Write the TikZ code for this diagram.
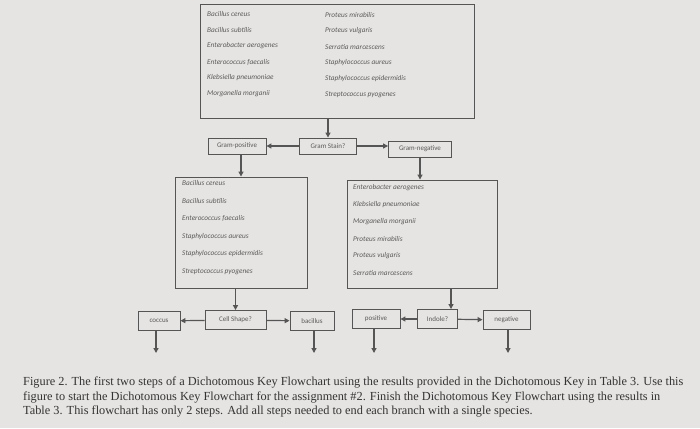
\documentclass[tikz,border=0pt]{standalone}
\usepackage{fontspec}
\setmainfont{Liberation Serif}
\newfontfamily\calfont{Carlito}
\usetikzlibrary{arrows.meta}
\definecolor{bg}{HTML}{E6E4E2}
\definecolor{ln}{HTML}{555555}
\definecolor{tx}{HTML}{5A5A5A}
\begin{document}
\begin{tikzpicture}[x=1pt,y=-1pt,
 box/.style={draw=ln,line width=0.9pt,fill=bg},
 lab/.style={draw=ln,line width=0.9pt,fill=bg,font=\calfont\fontsize{7}{8}\selectfont,text=tx,inner sep=0pt,minimum height=16pt},
 sp/.style={anchor=west,font=\calfont\itshape\fontsize{7.3}{8}\selectfont,text=tx,inner sep=0pt},
 arr/.style={draw=ln,line width=1.2pt,-{Triangle[length=5pt,width=5pt]}}]
\useasboundingbox[fill=bg] (0,0) rectangle (700,428);
\node[box,minimum width=274pt,minimum height=114pt,inner sep=0pt] (top) at (337,61) {};
\foreach \t [count=\i] in {Bacillus cereus,Bacillus subtilis,Enterobacter aerogenes,Enterococcus faecalis,Klebsiella pneumoniae,Morganella morganii}
  \node[sp] (tl\i) at (207,{-2+16*\i}) {\t};
\foreach \t [count=\i] in {Proteus mirabilis,Proteus vulgaris,Serratia marcescens,Staphylococcus aureus,Staphylococcus epidermidis,Streptococcus pyogenes}
  \node[sp] (tr\i) at (325,{-1+16*\i}) {\t};
\node[lab,minimum width=57pt] (gs) at (328,146) {Gram Stain?};
\node[lab,minimum width=58pt] (gp) at (237,146) {Gram-positive};
\node[lab,minimum width=63pt] (gn) at (420,149) {Gram-negative};
\node[box,minimum width=132pt,minimum height=111pt,inner sep=0pt] (lb) at (241,232.5) {};
\node[box,minimum width=150pt,minimum height=108pt,inner sep=0pt] (rb) at (422,234) {};
\foreach \t [count=\i] in {Bacillus cereus,Bacillus subtilis,Enterococcus faecalis,Staphylococcus aureus,Staphylococcus epidermidis,Streptococcus pyogenes}
  \node[sp] (ll\i) at (182,{165+17.8*\i}) {\t};
\foreach \t [count=\i] in {Enterobacter aerogenes,Klebsiella pneumoniae,Morganella morganii,Proteus mirabilis,Proteus vulgaris,Serratia marcescens}
  \node[sp] (rl\i) at (353,{170+17.2*\i}) {\t};
\node[lab,minimum width=61pt,minimum height=19pt] (cs) at (235.5,320) {Cell Shape?};
\node[lab,minimum width=42pt,minimum height=19pt] (co) at (159,321) {coccus};
\node[lab,minimum width=44pt,minimum height=19pt] (ba) at (312,321) {bacillus};
\node[lab,minimum width=40pt,minimum height=19pt] (in) at (437.5,319) {Indole?};
\node[lab,minimum width=48pt,minimum height=19pt] (po) at (376,319) {positive};
\node[lab,minimum width=47pt,minimum height=19pt] (ne) at (506.5,320) {negative};
\draw[arr] (top.south -| gs) -- (gs.north);
\draw[arr] (gs) -- (gp);
\draw[arr] (gs) -- (gn.west|-gs);
\draw[arr] (gp.south -| 241,0) -- (lb.north -| 241,0);
\draw[arr] (gn.south) -- (rb.north -| gn);
\draw[arr] (lb.south -| cs) -- (cs.north);
\draw[arr] (rb.south -| 451,0) -- (in.north -| 451,0);
\draw[arr] (cs) -- (co);
\draw[arr] (cs) -- (ba);
\draw[arr] (in) -- (po);
\draw[arr] (in) -- (ne);
\coordinate (c1) at (156,353); \coordinate (c2) at (314,353);
\coordinate (c3) at (374,353); \coordinate (c4) at (508,353);
\draw[arr] (co.south -| c1) -- (c1);
\draw[arr] (ba.south -| c2) -- (c2);
\draw[arr] (po.south -| c3) -- (c3);
\draw[arr] (ne.south -| c4) -- (c4);
\node[anchor=north west,align=left,inner sep=0pt,text=black!80,font=\fontsize{12.3}{14.5}\selectfont] (cap) at (23,377)
{Figure 2. The first two steps of a Dichotomous Key Flowchart using the results provided in the Dichotomous Key in Table 3. Use this\\
figure to start the Dichotomous Key Flowchart for the assignment \#2. Finish the Dichotomous Key Flowchart using the results in\\
Table 3. This flowchart has only 2 steps. Add all steps needed to end each branch with a single species.};
\end{tikzpicture}
\end{document}
